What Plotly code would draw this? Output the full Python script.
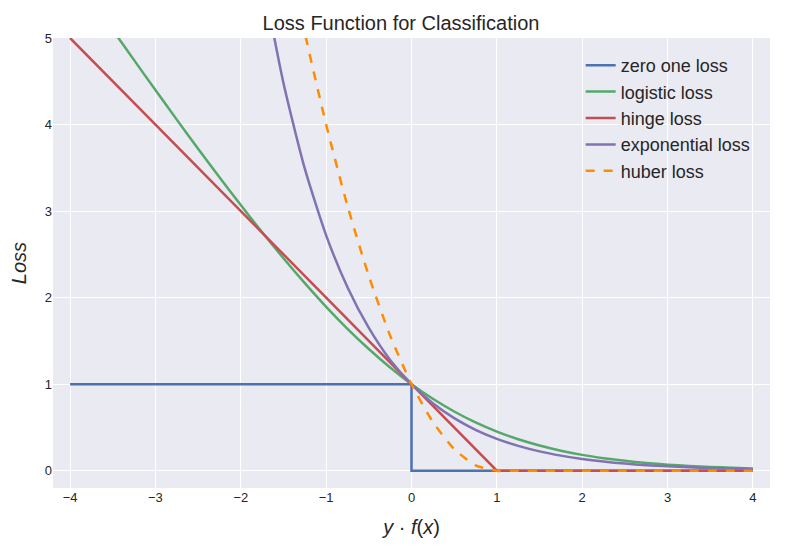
import plotly.graph_objects as go

# margin values y*f(x)
z = [-4, -3.75, -3.5, -3.25, -3, -2.75, -2.5, -2.25, -2, -1.75, -1.5, -1.25, -1,
     -0.75, -0.5, -0.25, 0, 0.25, 0.5, 0.75, 1, 1.25, 1.5, 1.75, 2, 2.25, 2.5,
     2.75, 3, 3.25, 3.5, 3.75, 4]

zero_one_x = [-4, 0, 0, 4]
zero_one_y = [1, 1, 0, 0]

logistic = [5.797, 5.444, 5.092, 4.744, 4.398, 4.057, 3.720, 3.391, 3.069, 2.756,
            2.455, 2.167, 1.894, 1.640, 1.406, 1.192, 1.0, 0.831, 0.684, 0.558,
            0.452, 0.363, 0.291, 0.231, 0.183, 0.145, 0.114, 0.089, 0.070, 0.055,
            0.043, 0.034, 0.026]

hinge = [5, 4.75, 4.5, 4.25, 4, 3.75, 3.5, 3.25, 3, 2.75, 2.5, 2.25, 2, 1.75,
         1.5, 1.25, 1, 0.75, 0.5, 0.25, 0, 0, 0, 0, 0, 0, 0, 0, 0, 0, 0, 0, 0]

exponential = [54.6, 42.5, 33.1, 25.8, 20.1, 15.6, 12.2, 9.49, 7.39, 5.75, 4.48,
               3.49, 2.72, 2.12, 1.65, 1.28, 1.0, 0.779, 0.607, 0.472, 0.368,
               0.287, 0.223, 0.174, 0.135, 0.105, 0.082, 0.064, 0.050, 0.039,
               0.030, 0.024, 0.018]

huber = [25, 22.56, 20.25, 18.06, 16, 14.06, 12.25, 10.56, 9, 7.56, 6.25, 5.06,
         4, 3.06, 2.25, 1.56, 1, 0.5625, 0.25, 0.0625, 0, 0, 0, 0, 0, 0, 0, 0,
         0, 0, 0, 0, 0]

fig = go.Figure()
fig.add_trace(go.Scatter(x=zero_one_x, y=zero_one_y, mode="lines", name="zero one loss",
                         line=dict(color="#4C72B0", width=2.5)))
fig.add_trace(go.Scatter(x=z, y=logistic, mode="lines", name="logistic loss",
                         line=dict(color="#55A868", width=2.5, shape="spline", smoothing=0.6)))
fig.add_trace(go.Scatter(x=z, y=hinge, mode="lines", name="hinge loss",
                         line=dict(color="#C44E52", width=2.5)))
fig.add_trace(go.Scatter(x=z, y=exponential, mode="lines", name="exponential loss",
                         line=dict(color="#8172B2", width=2.5, shape="spline", smoothing=0.6)))
fig.add_trace(go.Scatter(x=z, y=huber, mode="lines", name="huber loss",
                         line=dict(color="darkorange", width=2.5, dash="dash",
                                   shape="spline", smoothing=0.6)))

fig.update_xaxes(range=[-4.2, 4.2], tickvals=[-4, -3, -2, -1, 0, 1, 2, 3, 4],
                 ticktext=["−4", "−3", "−2", "−1", "0", "1", "2", "3", "4"],
                 gridcolor="white", gridwidth=1.2, zeroline=False,
                 title=dict(text="<i>y</i> · <i>f</i>(<i>x</i>)", font=dict(size=20)))
fig.update_yaxes(range=[-0.2, 5], tickvals=[0, 1, 2, 3, 4, 5],
                 gridcolor="white", gridwidth=1.2, zeroline=False,
                 title=dict(text="<i>Loss</i>", font=dict(size=20), standoff=12))

fig.update_layout(
    width=786, height=546,
    paper_bgcolor="white", plot_bgcolor="#EAEAF2",
    font=dict(family="Liberation Sans, Arial", size=13, color="#262626"),
    title=dict(text="Loss Function for Classification", x=0.5, y=0.985,
               xanchor="center", font=dict(size=20)),
    margin=dict(l=45, r=24, t=30, b=66),
    legend=dict(x=0.98, y=0.98, xanchor="right", yanchor="top",
                bgcolor="rgba(0,0,0,0)", font=dict(size=18)),
)

fig.write_html("out.html")
